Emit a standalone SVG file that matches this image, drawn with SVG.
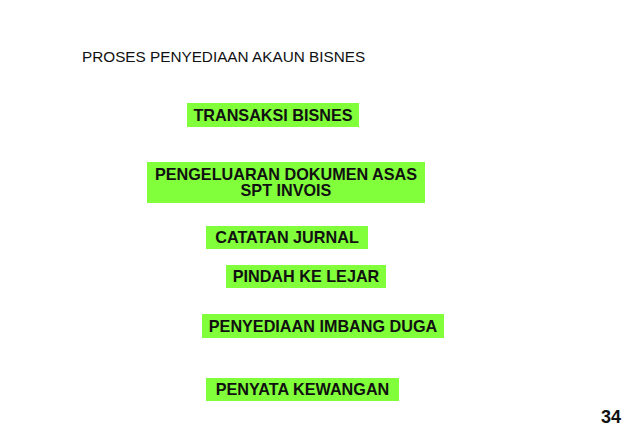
<svg xmlns="http://www.w3.org/2000/svg" width="638" height="442" viewBox="0 0 638 442">
<style>
.box{fill:#80ff3a;stroke:none}
.lbl{font-family:"Liberation Sans",Arial,sans-serif;font-weight:bold;font-size:16.2px;fill:#111;text-anchor:middle}
.title{font-family:"Liberation Sans",Arial,sans-serif;font-size:15.3px;fill:#111}
.num{font-family:"Liberation Sans",Arial,sans-serif;font-weight:bold;font-size:18px;fill:#111}
</style>
<rect width="638" height="442" fill="#ffffff"/>
<text class="title" x="82" y="62">PROSES PENYEDIAAN AKAUN BISNES</text>
<g id="connectors"></g>
<g id="n1"><rect class="box" x="187" y="103" width="172" height="24"/><text class="lbl" x="273" y="121">TRANSAKSI BISNES</text></g>
<g id="n2"><rect class="box" x="147" y="162" width="278" height="41"/><text class="lbl"><tspan x="286" y="179.5">PENGELUARAN DOKUMEN ASAS</tspan><tspan x="286" y="196">SPT INVOIS</tspan></text></g>
<g id="n3"><rect class="box" x="206" y="226" width="162" height="23"/><text class="lbl" x="287" y="243">CATATAN JURNAL</text></g>
<g id="n4"><rect class="box" x="226" y="265" width="160" height="23"/><text class="lbl" x="306" y="282">PINDAH KE LEJAR</text></g>
<g id="n5"><rect class="box" x="202" y="314" width="242" height="24"/><text class="lbl" x="323" y="332">PENYEDIAAN IMBANG DUGA</text></g>
<g id="n6"><rect class="box" x="206" y="378" width="193" height="23"/><text class="lbl" x="302.5" y="395">PENYATA KEWANGAN</text></g>
<text class="num" x="601" y="423">34</text>
</svg>
